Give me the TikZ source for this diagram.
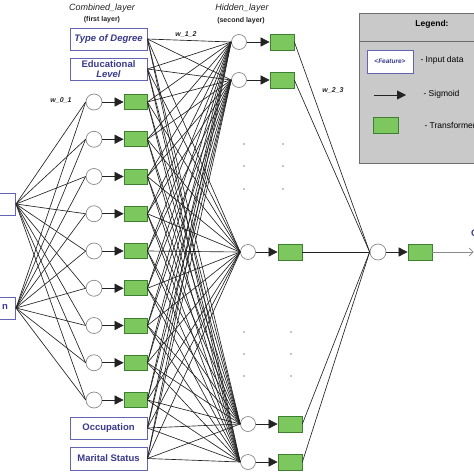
\documentclass[tikz,border=0pt]{standalone}
\usepackage{fontspec}
\setmainfont{Liberation Sans}
\usetikzlibrary{arrows.meta,positioning}
\definecolor{NetInk}{HTML}{222222}
\definecolor{NetBlue}{HTML}{3A3A8C}
\definecolor{NetFrame}{HTML}{6464B4}
\definecolor{NetGreen}{HTML}{7CC85E}
\definecolor{NetGreenDark}{HTML}{3F7F32}
\definecolor{NetGray}{HTML}{C9C9C9}
\definecolor{NetRing}{HTML}{8A8A8A}

\tikzset{
  feature/.style={draw=NetFrame, line width=0.8pt, fill=white, minimum width=77pt, minimum height=22pt, inner sep=1pt, text=NetBlue, font=\fontsize{9.5}{10}\selectfont\bfseries, align=center},
  neuron/.style={circle, draw=NetRing, fill=white, line width=0.7pt, minimum size=16pt, inner sep=0pt},
  transf/.style={draw=NetGreenDark, fill=NetGreen, line width=0.7pt, minimum width=23pt, minimum height=15pt, inner sep=0pt},
  sigm/.style={-{Triangle[length=9pt,width=9pt]}, NetInk, line width=0.6pt},
  wire/.style={NetInk, line width=0.65pt},
  wlabel/.style={font=\fontsize{7}{7}\selectfont\bfseries\itshape, text=NetInk},
  layertitle/.style={font=\fontsize{9}{9}\selectfont\itshape, text=NetInk},
  layersub/.style={font=\fontsize{7}{7}\selectfont\bfseries, text=NetInk},
}

\begin{document}
\begin{tikzpicture}[x=1pt,y=-1pt, every node/.style={font=\fontsize{8.5}{9}\selectfont}]
    \useasboundingbox (0,0) rectangle (474,474);
    \clip (0,0) rectangle (474,474);

    % inputs cut by the left edge
    \node[feature, anchor=east] (infirst) at (16,204) {};
    \node[feature, anchor=east] (insecond) at (16,308) {};
    \node[text=NetBlue, font=\fontsize{9.5}{10}\selectfont\bfseries] (insecondtxt) at (5,307) {n};

    % combined layer
    \node[layertitle] (combtitle) at (102,8) {Combined\_layer};
    \node[layersub] (combsub) at (102,20) {(first layer)};
    \node[feature] (degree) at (108.5,39) {\textit{Type of Degree}};
    \node[feature] (edu) at (108.5,69) {Educational\\\textit{Level}};
    \node[feature] (occ) at (108.5,428) {Occupation};
    \node[feature, minimum height=23pt] (marital) at (108.5,458.5) {Marital Status};
    \foreach \i in {1,...,9} {
      \node[neuron] (n\i) at (94,{102+37.25*(\i-1)}) {};
      \node[transf] (t\i) at (135.5,{102+37.25*(\i-1)}) {};
      \draw[sigm] (n\i.east) -- (t\i.west);
      \draw[wire] (infirst.east) -- (n\i.west);
      \draw[wire] (insecond.east) -- (n\i.west);
    }
    \node[wlabel] (w01) at (61,100) {w\_0\_1};

    % hidden layer
    \node[layertitle] (hidtitle) at (242,8) {Hidden\_layer};
    \node[layersub] (hidsub) at (241,21) {(second layer)};
    \node[neuron, minimum size=15pt] (h1) at (239,42) {};
    \node[neuron, minimum size=15pt] (h2) at (239,80) {};
    \node[neuron, minimum size=15pt] (h3) at (248,252) {};
    \node[neuron, minimum size=15pt] (h4) at (248,424) {};
    \node[neuron, minimum size=15pt] (h5) at (248,462) {};
    \node[transf, minimum width=24pt, minimum height=16pt] (hb1) at (282,42) {};
    \node[transf, minimum width=24pt, minimum height=16pt] (hb2) at (282,80) {};
    \node[transf, minimum width=24pt, minimum height=16pt] (hb3) at (290,252) {};
    \node[transf, minimum width=24pt, minimum height=16pt] (hb4) at (290,424) {};
    \node[transf, minimum width=24pt, minimum height=16pt] (hb5) at (290,462) {};
    \foreach \i in {1,...,5} \draw[sigm] (h\i.east) -- (hb\i.west);
    \foreach \s in {degree,edu,t1,t2,t3,t4,t5,t6,t7,t8,t9,occ,marital}
      \foreach \i in {1,...,5} \draw[wire] (\s.east) -- (h\i.west);
    \node[wlabel] (w12) at (186,34) {w\_1\_2};
    \foreach \y in {144,166,189} {
      \fill[NetRing] (244,\y) circle (0.8pt);
      \fill[NetRing] (283,\y) circle (0.8pt);
    }
    \foreach \y in {332,354,376} {
      \fill[NetRing] (244,\y) circle (0.8pt);
      \fill[NetRing] (291,\y) circle (0.8pt);
    }

    % output layer
    \node[neuron] (o) at (378,252) {};
    \node[transf, minimum width=24pt, minimum height=16pt] (ob) at (420,252) {};
    \foreach \i in {1,...,5} \draw[wire] (hb\i.east) -- (o.west);
    \draw[sigm] (o.east) -- (ob.west);
    \coordinate (outend) at (473.5,252);
    \draw[NetRing, line width=0.7pt, -{Straight Barb[length=4pt,width=8pt]}] (ob.east) -- (outend);
    \node[anchor=west, text=NetBlue, font=\fontsize{9.5}{10}\selectfont\bfseries] (outtxt) at (467.5,233) {O};
    \node[wlabel] (w23) at (333,90) {w\_2\_3};

    % legend
    \node[draw=NetRing!80!black, line width=0.8pt, fill=NetGray, anchor=north west, minimum width=160pt, minimum height=150pt] (legend) at (359,13) {};
    \draw[NetRing!80!black, line width=0.8pt] ([yshift=-28pt]legend.north west) -- ([yshift=-28pt]legend.north east);
    \node[font=\fontsize{8.5}{9}\selectfont\bfseries] (legtitle) at (432,24) {Legend:};
    \node[feature, minimum width=46pt, minimum height=23pt, font=\fontsize{6.5}{7}\selectfont\bfseries\itshape] (legfeat) at (390,61.5) {<Feature>};
    \node[anchor=west] (legfeattxt) at (417,60) {- Input data};
    \coordinate (legarrA) at (374,95);
    \coordinate (legarrB) at (406,95);
    \draw[sigm, line width=0.8pt] (legarrA) -- (legarrB);
    \node[anchor=west] (legsigtxt) at (420,94) {- Sigmoid};
    \node[transf, minimum width=25pt, minimum height=16pt] (legtf) at (385.5,125) {};
    \node[anchor=west] (legtftxt) at (421,125) {- Transformer};
\end{tikzpicture}
\end{document}
